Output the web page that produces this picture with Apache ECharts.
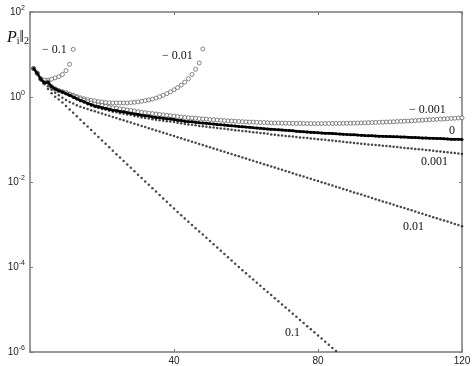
<!DOCTYPE html>
<html>
<head>
<meta charset="utf-8">
<script src="https://cdn.jsdelivr.net/npm/echarts@6/dist/echarts.min.js"></script>
<style>
  html, body { margin: 0; padding: 0; background: #fff; }
  #chart { width: 474px; height: 366px; }
</style>
</head>
<body>
<div id="chart"></div>
<script>
// iteration index runs 1..n for every series
const xTicks = [40, 80, 120];
const yExps = [-6, -4, -2, 0, 2];

// lambda = 0 (solid)
const lam0 = [
  4.68, 3.63, 2.63, 2.14, 2.24, 1.74, 1.55, 1.41, 1.32, 1.20,
  1.10, 1.00, 0.912, 0.832, 0.776, 0.708, 0.661, 0.617, 0.589, 0.562,
  0.537, 0.513, 0.490, 0.479, 0.457, 0.447, 0.427, 0.417, 0.398, 0.389,
  0.372, 0.363, 0.355, 0.339, 0.331, 0.324, 0.316, 0.309, 0.302, 0.295,
  0.285, 0.279, 0.269, 0.263, 0.260, 0.254, 0.248, 0.245, 0.240, 0.234,
  0.232, 0.226, 0.221, 0.219, 0.214, 0.210, 0.207, 0.203, 0.200, 0.196,
  0.193, 0.189, 0.186, 0.183, 0.180, 0.177, 0.174, 0.171, 0.169, 0.167,
  0.164, 0.162, 0.160, 0.157, 0.155, 0.153, 0.151, 0.149, 0.147, 0.145,
  0.143, 0.141, 0.140, 0.138, 0.136, 0.135, 0.133, 0.132, 0.130, 0.129,
  0.127, 0.126, 0.124, 0.123, 0.122, 0.121, 0.120, 0.119, 0.118, 0.117,
  0.116, 0.116, 0.115, 0.114, 0.113, 0.112, 0.111, 0.110, 0.109, 0.108,
  0.107, 0.107, 0.106, 0.105, 0.104, 0.103, 0.102, 0.102, 0.101, 0.100
];

// lambda = -0.001 (open circles)
const lamNeg0001 = [
  4.68, 3.63, 2.63, 2.14, 2.24, 1.74, 1.55, 1.41, 1.32, 1.26,
  1.15, 1.06, 0.966, 0.891, 0.832, 0.776, 0.724, 0.684, 0.653, 0.631,
  0.603, 0.575, 0.556, 0.543, 0.525, 0.513, 0.495, 0.484, 0.468, 0.452,
  0.437, 0.427, 0.417, 0.407, 0.398, 0.389, 0.380, 0.372, 0.363, 0.355,
  0.347, 0.339, 0.331, 0.324, 0.320, 0.316, 0.309, 0.305, 0.302, 0.295,
  0.292, 0.288, 0.282, 0.279, 0.275, 0.272, 0.269, 0.266, 0.263, 0.260,
  0.257, 0.257, 0.254, 0.251, 0.251, 0.248, 0.245, 0.245, 0.244, 0.243,
  0.242, 0.240, 0.240, 0.239, 0.239, 0.238, 0.237, 0.237, 0.237, 0.237,
  0.237, 0.237, 0.238, 0.238, 0.239, 0.239, 0.240, 0.241, 0.242, 0.243,
  0.244, 0.245, 0.247, 0.249, 0.251, 0.252, 0.254, 0.256, 0.258, 0.260,
  0.262, 0.265, 0.267, 0.270, 0.272, 0.275, 0.279, 0.282, 0.285, 0.288,
  0.292, 0.295, 0.299, 0.302, 0.305, 0.309, 0.313, 0.316, 0.320, 0.324
];

// lambda = -0.01 (open circles, blows up)
const lamNeg001 = [
  4.68, 3.63, 2.63, 2.14, 2.24, 1.74, 1.55, 1.41, 1.32, 1.26,
  1.175, 1.096, 1.023, 0.955, 0.912, 0.871, 0.832, 0.813, 0.776, 0.759,
  0.741, 0.733, 0.724, 0.724, 0.724, 0.724, 0.724, 0.741, 0.750, 0.767,
  0.794, 0.822, 0.851, 0.891, 0.944, 1.012, 1.096, 1.202, 1.318, 1.479,
  1.660, 1.905, 2.239, 2.692, 3.388, 4.467, 6.310, 13.5
];

// lambda = -0.1 (open circles, blows up)
const lamNeg01 = [4.68, 3.63, 2.69, 2.51, 2.51, 2.63, 2.82, 3.02, 3.39, 4.17, 5.89, 13.2];

// lambda = 0.001 (dots)
const lamPos0001 = [
  4.68, 3.63, 2.63, 2.14, 2.24, 1.74, 1.55, 1.41, 1.30, 1.175,
  1.067, 0.968, 0.879, 0.798, 0.741, 0.673, 0.625, 0.581, 0.552, 0.525,
  0.499, 0.474, 0.451, 0.439, 0.417, 0.406, 0.385, 0.375, 0.356, 0.347,
  0.330, 0.322, 0.314, 0.299, 0.292, 0.284, 0.277, 0.270, 0.264, 0.257,
  0.247, 0.240, 0.231, 0.225, 0.221, 0.215, 0.209, 0.206, 0.200, 0.195,
  0.192, 0.187, 0.182, 0.179, 0.174, 0.170, 0.166, 0.163, 0.159, 0.156,
  0.152, 0.149, 0.146, 0.143, 0.140, 0.136, 0.132, 0.129, 0.126, 0.124,
  0.121, 0.119, 0.117, 0.115, 0.112, 0.110, 0.108, 0.106, 0.104, 0.102,
  0.100, 0.0982, 0.0962, 0.0942, 0.0923, 0.0904, 0.0885, 0.0867, 0.0849, 0.0832,
  0.0815, 0.0798, 0.0782, 0.0766, 0.0753, 0.0740, 0.0728, 0.0714, 0.0703, 0.0692,
  0.0676, 0.0662, 0.0649, 0.0634, 0.0619, 0.0610, 0.0598, 0.0589, 0.0578, 0.0569,
  0.0556, 0.0545, 0.0532, 0.0521, 0.0509, 0.0499, 0.0488, 0.0478, 0.0467, 0.0457
];

// lambda = 0.01 (dots)
const lamPos001 = [
  4.68, 3.63, 2.63, 2.14, 1.78, 1.48, 1.26, 1.10, 0.955, 0.851,
  0.767, 0.700, 0.638, 0.589, 0.554, 0.521, 0.490, 0.461, 0.434, 0.408,
  0.384, 0.361, 0.340, 0.320, 0.301, 0.283, 0.266, 0.251, 0.236, 0.222,
  0.209, 0.196, 0.185, 0.174, 0.163, 0.154, 0.145, 0.136, 0.128, 0.121,
  0.113, 0.107, 0.100, 0.0944, 0.0888, 0.0836, 0.0786, 0.0740, 0.0696, 0.0655,
  0.0616, 0.0579, 0.0545, 0.0513, 0.0483, 0.0454, 0.0427, 0.0402, 0.0378, 0.0356,
  0.0335, 0.0315, 0.0296, 0.0279, 0.0262, 0.0247, 0.0232, 0.0218, 0.0205, 0.0193,
  0.0182, 0.0171, 0.0161, 0.0151, 0.0142, 0.0134, 0.0126, 0.0119, 0.0112, 0.0105,
  0.00987, 0.00929, 0.00874, 0.00822, 0.00774, 0.00728, 0.00685, 0.00644, 0.00606, 0.00570,
  0.00537, 0.00505, 0.00475, 0.00447, 0.00420, 0.00395, 0.00372, 0.00350, 0.00329, 0.00310,
  0.00291, 0.00274, 0.00258, 0.00243, 0.00228, 0.00215, 0.00202, 0.00190, 0.00179, 0.00168,
  0.00158, 0.00149, 0.00140, 0.00132, 0.00124, 0.00117, 0.00110, 0.00103, 0.000972, 0.000914
];

// lambda = 0.1 (dots, leaves the axis near 85)
const lamPos01 = [
  4.68, 3.55, 2.63, 2.04, 1.55, 1.23, 1.02, 0.871, 0.741, 0.615,
  0.511, 0.424, 0.352, 0.292, 0.242, 0.201, 0.167, 0.138, 0.115, 0.0953,
  0.0791, 0.0656, 0.0545, 0.0452, 0.0375, 0.0312, 0.0259, 0.0216, 0.0179, 0.0149,
  0.0124, 0.0103, 0.00859, 0.00714, 0.00594, 0.00494, 0.00411, 0.00342, 0.00284, 0.00237,
  0.00197, 0.00165, 0.00139, 0.00116, 9.77e-4, 8.20e-4, 6.89e-4, 5.78e-4, 4.85e-4, 4.07e-4,
  3.42e-4, 2.87e-4, 2.41e-4, 2.02e-4, 1.70e-4, 1.43e-4, 1.20e-4, 1.00e-4, 8.43e-5, 7.08e-5,
  5.98e-5, 5.06e-5, 4.28e-5, 3.61e-5, 3.05e-5, 2.58e-5, 2.18e-5, 1.85e-5, 1.56e-5, 1.32e-5,
  1.11e-5, 9.42e-6, 7.96e-6, 6.73e-6, 5.69e-6, 4.81e-6, 4.06e-6, 3.44e-6, 2.90e-6, 2.45e-6,
  2.07e-6, 1.75e-6, 1.48e-6, 1.25e-6, 1.06e-6, 8.95e-7
];

const pairs = (arr) => arr.map((v, i) => [i + 1, v]);

const chart = echarts.init(document.getElementById("chart"), null, { renderer: "canvas" });

const axisGray = "#7a7a7a";
const serif = '"Liberation Serif", "DejaVu Serif", serif';
const sans = '"Liberation Sans", Arial, sans-serif';

const circles = {
  type: "scatter",
  symbol: "circle",
  symbolSize: 4,
  itemStyle: { color: "#fff", borderColor: "#444", borderWidth: 0.8 },
  silent: true,
};
const dots = {
  type: "scatter",
  symbol: "circle",
  symbolSize: 2.5,
  itemStyle: { color: "#1a1a1a" },
  silent: true,
};

const xBase = {
  type: "value", min: 0, max: 120, interval: 40,
  axisLine: { show: true, onZero: false, lineStyle: { color: axisGray, width: 1.5 } },
  axisTick: { show: true, inside: true, length: 3, lineStyle: { color: axisGray } },
  splitLine: { show: false },
};
const yBase = {
  type: "log", logBase: 10, min: 1e-6, max: 1e2, interval: 2,
  axisLine: { show: true, onZero: false, lineStyle: { color: axisGray, width: 1.5 } },
  axisTick: { show: true, inside: true, length: 3, lineStyle: { color: axisGray } },
  splitLine: { show: false },
  minorTick: { show: false },
};

const note = (x, y, text) => ({
  type: "text", x, y, silent: true,
  style: { text, font: "12px " + serif, fill: "#111", verticalAlign: "middle" },
});

chart.setOption({
  animation: false,
  backgroundColor: "#fff",
  grid: { left: 30, right: 12, top: 12, bottom: 14 },
  xAxis: [
    {
      ...xBase, position: "bottom",
      axisLabel: {
        margin: 4, fontSize: 10, color: "#222", fontFamily: sans,
        formatter: (v) => (xTicks.includes(v) ? String(v) : ""),
      },
    },
    { ...xBase, position: "top", axisLabel: { show: false } },
  ],
  yAxis: [
    {
      ...yBase, position: "left",
      axisLabel: {
        margin: 5, color: "#222", fontFamily: sans,
        formatter: (v) => {
          const e = Math.round(Math.log10(v));
          return yExps.includes(e) ? "{b|10}{s|" + e + "}" : "";
        },
        rich: {
          b: { fontSize: 10, lineHeight: 14, fontFamily: sans, color: "#222" },
          s: { fontSize: 7, lineHeight: 7, verticalAlign: "top", fontFamily: sans, color: "#222" },
        },
      },
    },
    { ...yBase, position: "right", axisLabel: { show: false } },
  ],
  series: [
    { ...dots, name: "0.1", data: pairs(lamPos01) },
    { ...dots, name: "0.01", data: pairs(lamPos001) },
    { ...dots, name: "0.001", data: pairs(lamPos0001) },
    { ...circles, name: "-0.1", data: pairs(lamNeg01) },
    { ...circles, name: "-0.01", data: pairs(lamNeg001) },
    { ...circles, name: "-0.001", data: pairs(lamNeg0001) },
    {
      type: "line", name: "0", data: pairs(lam0),
      symbol: "circle", symbolSize: 3, showSymbol: true,
      itemStyle: { color: "#000" },
      lineStyle: { color: "#000", width: 2.5 },
      silent: true,
    },
  ],
  graphic: [
    {
      type: "text", left: 7, top: 30, silent: true,
      style: {
        text: "{p|P}{i|i}{n|\u2016}{i|2}",
        rich: {
          p: { fontFamily: serif, fontStyle: "italic", fontSize: 16, lineHeight: 16, fill: "#111" },
          i: { fontFamily: serif, fontSize: 10, lineHeight: 8, verticalAlign: "bottom", fill: "#111" },
          n: { fontFamily: serif, fontSize: 16, lineHeight: 16, fill: "#111" },
        },
      },
    },
    note(42, 50, "\u2212 0.1"),
    note(162, 56, "\u2212 0.01"),
    note(409, 110, "\u2212 0.001"),
    note(449, 131, "0"),
    note(421, 162, "0.001"),
    note(403, 227, "0.01"),
    note(285, 333, "0.1"),
  ],
});

window.addEventListener("resize", () => chart.resize());
</script>
</body>
</html>
